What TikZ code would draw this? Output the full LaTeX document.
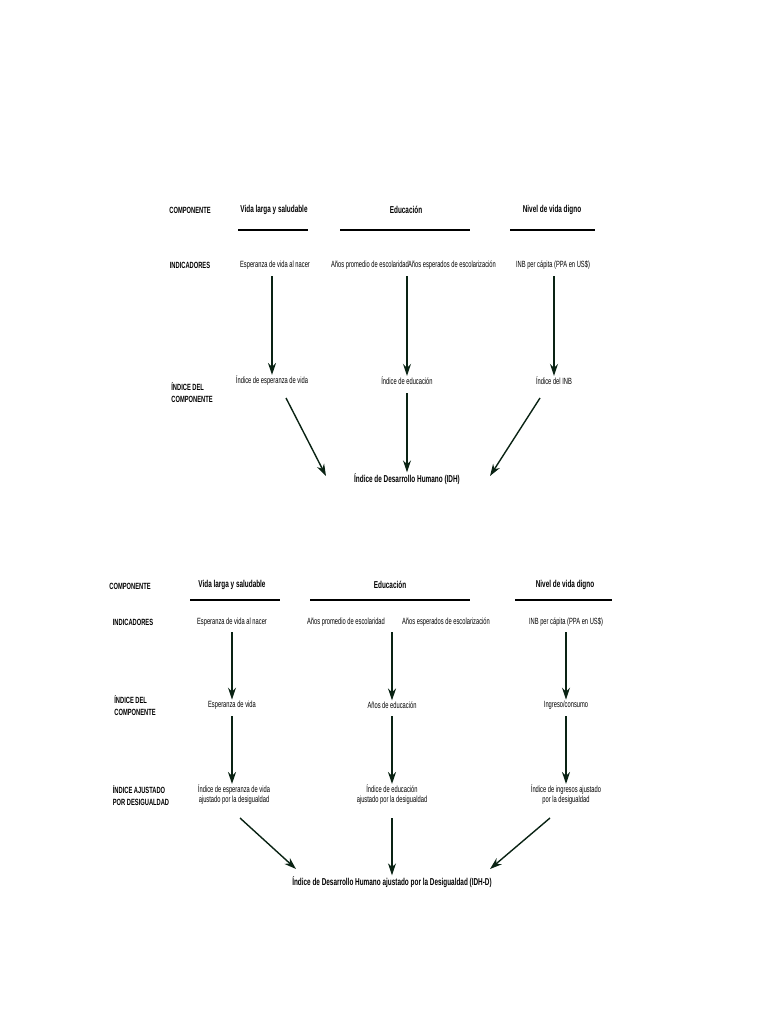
\documentclass[tikz,border=0pt]{standalone}
\usepackage{fontspec}
\setmainfont{Liberation Sans}[FakeStretch=0.64]
\usetikzlibrary{arrows.meta}
\definecolor{arr}{RGB}{10,35,20}
\begin{document}
\begin{tikzpicture}[x=1pt,y=-1pt,
  t/.style={font=\fontsize{9}{10}\selectfont,inner sep=1pt,align=center},
  h/.style={font=\fontsize{10}{11}\selectfont\bfseries,inner sep=1pt,align=center},
  lab/.style={font=\fontsize{9}{12}\selectfont\bfseries,inner sep=1pt,align=left},
  ul/.style={line width=1.1pt},
  ar/.style={line width=1.4pt,arr,-{Stealth[length=12pt,width=8pt]}}]
\useasboundingbox (0,0) rectangle (768,1024);
% ===== top =====
\node[lab] (c1) at (190,210) {COMPONENTE};
\node[h] (v1) at (274,210) {Vida larga y saludable};
\node[h] (e1) at (406,210) {Educación};
\node[h] (n1) at (552,210) {Nivel de vida digno};
\coordinate (v1a) at (238,230); \coordinate (v1b) at (308,230);
\coordinate (e1a) at (340,230); \coordinate (e1b) at (470,230);
\coordinate (n1a) at (510,230); \coordinate (n1b) at (595,230);
\draw[ul] (v1a)--(v1b); \draw[ul] (e1a)--(e1b); \draw[ul] (n1a)--(n1b);
\node[lab] (i1) at (190,265) {INDICADORES};
\node[t] (a1) at (275,265) {Esperanza de vida al nacer};
\node[t] (b1) at (370,265) {Años promedio de escolaridad};
\node[t] (b2) at (452,265) {Años esperados de escolarización};
\node[t] (d1) at (553,265) {INB per cápita (PPA en US\$)};
\node[lab] (x1) at (192,393) {ÍNDICE DEL\\COMPONENTE};
\node[t] (p1) at (272,381) {Índice de esperanza de vida};
\node[t] (q1) at (407,381) {Índice de educación};
\node[t] (r1) at (554,381) {Índice del INB};
\node[h] (idh) at (407,479) {Índice de Desarrollo Humano (IDH)};
\coordinate (s1) at (272,276); \coordinate (s2) at (407,276); \coordinate (s3) at (554,276);
\draw[ar] (s1)--(p1.north-|s1);
\draw[ar] (s2)--(q1.north);
\draw[ar] (s3)--(r1.north);
\coordinate (u1) at (286,398); \coordinate (u2) at (407,393); \coordinate (u3) at (540,398);
\coordinate (w1) at (326,476); \coordinate (w3) at (490,476);
\draw[ar] (u1)--(w1);
\draw[ar] (u2)--(idh.north);
\draw[ar] (u3)--(w3);
% ===== bottom =====
\node[lab] (c2) at (130,586) {COMPONENTE};
\node[h] (v2) at (232,585) {Vida larga y saludable};
\node[h] (e2) at (390,585) {Educación};
\node[h] (n2) at (565,585) {Nivel de vida digno};
\coordinate (v2a) at (190,600); \coordinate (v2b) at (280,600);
\coordinate (e2a) at (310,600); \coordinate (e2b) at (470,600);
\coordinate (n2a) at (515,600); \coordinate (n2b) at (612,600);
\draw[ul] (v2a)--(v2b); \draw[ul] (e2a)--(e2b); \draw[ul] (n2a)--(n2b);
\node[lab] (i2) at (133,622) {INDICADORES};
\node[t] (a2) at (232,622) {Esperanza de vida al nacer};
\node[t] (b3) at (346,622) {Años promedio de escolaridad};
\node[t] (b4) at (446,622) {Años esperados de escolarización};
\node[t] (d2) at (566,622) {INB per cápita (PPA en US\$)};
\node[lab] (x2) at (135,706) {ÍNDICE DEL\\COMPONENTE};
\node[t] (p2) at (232,705) {Esperanza de vida};
\node[t] (q2) at (392,705) {Años de educación};
\node[t] (r2) at (566,705) {Ingreso/consumo};
\node[lab] (y2) at (141,796) {ÍNDICE AJUSTADO\\POR DESIGUALDAD};
\node[t] (p3) at (234,795) {Índice de esperanza de vida\\ajustado por la desigualdad};
\node[t] (q3) at (392,795) {Índice de educación\\ajustado por la desigualdad};
\node[t] (r3) at (566,795) {Índice de ingresos ajustado\\por la desigualdad};
\node[h] (idhd) at (392,882) {Índice de Desarrollo Humano ajustado por la Desigualdad (IDH-D)};
\coordinate (k1) at (232,632); \coordinate (k2) at (392,632); \coordinate (k3) at (566,632);
\draw[ar] (k1)--(p2.north);
\draw[ar] (k2)--(q2.north);
\draw[ar] (k3)--(r2.north);
\coordinate (m1) at (232,716); \coordinate (m2) at (392,716); \coordinate (m3) at (566,716);
\draw[ar] (m1)--(p3.north-|m1);
\draw[ar] (m2)--(q3.north);
\draw[ar] (m3)--(r3.north);
\coordinate (o1) at (240,818); \coordinate (o2) at (392,818); \coordinate (o3) at (550,818);
\coordinate (z1) at (296,869); \coordinate (z3) at (490,869);
\draw[ar] (o1)--(z1);
\draw[ar] (o2)--(idhd.north);
\draw[ar] (o3)--(z3);
\end{tikzpicture}
\end{document}
